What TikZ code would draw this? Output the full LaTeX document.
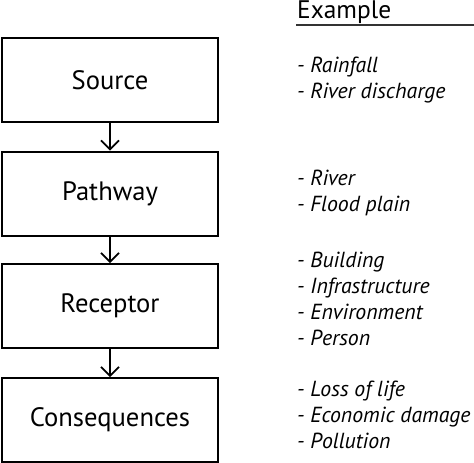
\documentclass[tikz,border=0pt]{standalone}
\usepackage{fontspec}
\setmainfont{PT Sans}
\usetikzlibrary{arrows.meta}
\begin{document}
\begin{tikzpicture}[x=1pt,y=-1pt,
  stage/.style={draw,line width=2pt,minimum width=216pt,minimum height=84pt,inner sep=0pt,font=\fontsize{26.6}{30}\selectfont},
  link/.style={line width=1.6pt,-{Straight Barb[length=9pt,width=18pt,line width=1.6pt]}},
  item/.style={anchor=base west,inner sep=0pt,font=\fontsize{21.8}{26}\selectfont\itshape},
  head/.style={anchor=base west,inner sep=0pt,font=\fontsize{25.4}{30}\selectfont}]
\useasboundingbox (0,0) rectangle (474,463);
\node[stage] (source) at (110,80) {Source};
\node[stage] (pathway) at (110,193.5) {Pathway};
\node[stage] (receptor) at (110,306) {Receptor};
\node[stage] (cons) at (110,420) {Consequences};
\draw[link] (source) -- (pathway);
\draw[link] (pathway) -- (receptor);
\draw[link] (receptor) -- (cons);
\node[head] (ex) at (297,18) {Example};
\coordinate (ulA) at (296,25);
\coordinate (ulB) at (474,25);
\draw[line width=1.5pt,black!80] (ulA) -- (ulB);
\node[item] (e1) at (297,72) {- Rainfall};
\node[item] (e2) at (297,98) {- River discharge};
\node[item] (e3) at (297,185) {- River};
\node[item] (e4) at (297,211) {- Flood plain};
\node[item] (e5) at (297,267) {- Building};
\node[item] (e6) at (297,293) {- Infrastructure};
\node[item] (e7) at (297,319) {- Environment};
\node[item] (e8) at (297,345) {- Person};
\node[item] (e9) at (297,396) {- Loss of life};
\node[item] (e10) at (297,422) {- Economic damage};
\node[item] (e11) at (297,448) {- Pollution};
\end{tikzpicture}
\end{document}
